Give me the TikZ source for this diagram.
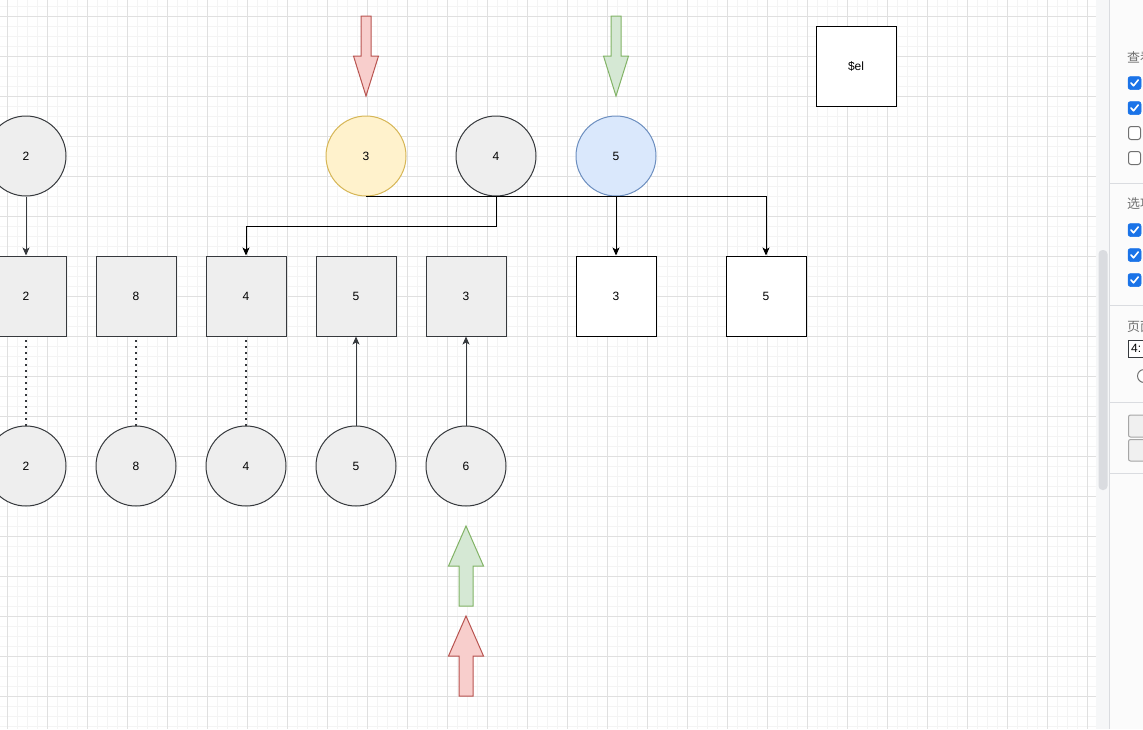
\documentclass[tikz,border=0pt]{standalone}
\usepackage{fontspec}
\setmainfont{Liberation Sans}
\newfontfamily\cjk{Noto Sans CJK SC}
\usetikzlibrary{arrows.meta}
\definecolor{gfill}{HTML}{EEEEEE}
\definecolor{gline}{HTML}{36393D}
\definecolor{yfill}{HTML}{FFF2CC}
\definecolor{yline}{HTML}{D6B656}
\definecolor{bfill}{HTML}{DAE8FC}
\definecolor{bline}{HTML}{6C8EBF}
\definecolor{rfill}{HTML}{F8CECC}
\definecolor{rline}{HTML}{B85450}
\definecolor{grfill}{HTML}{D5E8D4}
\definecolor{grline}{HTML}{82B366}
\definecolor{minorg}{HTML}{F4F4F4}
\definecolor{majorg}{HTML}{E0E0E0}
\definecolor{panelbg}{HTML}{FBFBFB}
\definecolor{paneline}{HTML}{DADCE0}
\definecolor{thumb}{HTML}{DADCE0}
\definecolor{track}{HTML}{F6F7F8}
\definecolor{cbblue}{HTML}{1A73E8}
\definecolor{ptext}{HTML}{707070}
\tikzset{
  lbl/.style={font=\fontsize{12}{14}\selectfont, text=black, inner sep=0pt},
  gcirc/.style={circle, minimum size=80pt, draw=gline, fill=gfill, line width=1pt, lbl},
  ycirc/.style={circle, minimum size=80pt, draw=yline, fill=yfill, line width=1pt, lbl},
  bcirc/.style={circle, minimum size=80pt, draw=bline, fill=bfill, line width=1pt, lbl},
  gbox/.style={rectangle, minimum size=80pt, draw=gline, fill=gfill, line width=1pt, lbl},
  wbox/.style={rectangle, minimum size=80pt, draw=black, fill=white, line width=1pt, lbl},
  conn/.style={draw=black, line width=1pt, -{Stealth[length=8pt,width=7pt,inset=2pt]}},
  gconn/.style={draw=gline, line width=1pt, -{Stealth[length=8pt,width=7pt,inset=2pt]}},
  dotline/.style={draw=gline, line width=2pt, dash pattern=on 2pt off 4pt},
  redarrow/.style={draw=rline, fill=rfill, line width=1pt, line join=miter},
  greenarrow/.style={draw=grline, fill=grfill, line width=1pt, line join=miter},
  minorgrid/.style={draw=minorg, line width=1pt},
  majorgrid/.style={draw=majorg, line width=1pt},
  cbon/.style={draw=cbblue, fill=cbblue, rounded corners=2.5pt, line width=0.5pt},
  cboff/.style={draw=ptext, fill=white, rounded corners=2.5pt, line width=1pt},
  ptxt/.style={font=\cjk\fontsize{13}{15}\selectfont, text=ptext, inner sep=0pt, anchor=west},
}
\begin{document}
\begin{tikzpicture}[x=1pt,y=-1pt]
\useasboundingbox (0,0) rectangle (1143,729);
\fill[white] (0,0) rectangle (1143,729);
% grid
\begin{scope}
\clip (0,0) rectangle (1096,729);
\foreach \x in {-3,7,...,1097} \draw[minorgrid] (\x,0) -- (\x,729);
\foreach \y in {6,16,...,726} \draw[minorgrid] (0,\y) -- (1096,\y);
\foreach \x in {7,47,...,1087} \draw[majorgrid] (\x,0) -- (\x,729);
\foreach \y in {16,56,...,696} \draw[majorgrid] (0,\y) -- (1096,\y);
\end{scope}

% top row circles
\node[gcirc] (c2) at (26,156) {2};
\node[ycirc] (c3) at (366,156) {3};
\node[gcirc] (c4) at (496,156) {4};
\node[bcirc] (c5) at (616,156) {5};

% boxes
\node[gbox] (b2) at (26,296) {2};
\node[gbox] (b8) at (136,296) {8};
\node[gbox] (b4) at (246,296) {4};
\node[gbox] (b5) at (356,296) {5};
\node[gbox] (b3) at (466,296) {3};
\node[wbox] (w3) at (616,296) {3};
\node[wbox] (w5) at (766,296) {5};
\node[wbox] (el) at (856,66) {\$el};

% bottom circles
\node[gcirc] (d2) at (26,466) {2};
\node[gcirc] (d8) at (136,466) {8};
\node[gcirc] (d4) at (246,466) {4};
\node[gcirc] (d5) at (356,466) {5};
\node[gcirc] (d6) at (466,466) {6};

% connectors
\draw[gconn] (c2.south) -- (b2.north);
\draw[conn] (c3.south) -| (w3.north);
\draw[conn] (c5.south) -| (w5.north);
\draw[conn] (c4.south) -- ++(0,30) -| (b4.north);
\draw[dotline] (d2.north) -- (b2.south);
\draw[dotline] (d8.north) -- (b8.south);
\draw[dotline] (d4.north) -- (b4.south);
\draw[gconn] (d5.north) -- (b5.south);
\draw[gconn] (d6.north) -- (b3.south);

% block arrows
\draw[redarrow] (361,16) -- (371,16) -- (371,56) -- (378.5,56) -- (366,96) -- (353.5,56) -- (361,56) -- cycle;
\draw[greenarrow] (611,16) -- (621,16) -- (621,56) -- (628.5,56) -- (616,96) -- (603.5,56) -- (611,56) -- cycle;
\draw[greenarrow] (459,606) -- (473,606) -- (473,566) -- (483.5,566) -- (466,526) -- (448.5,566) -- (459,566) -- cycle;
\draw[redarrow] (459,696) -- (473,696) -- (473,656) -- (483.5,656) -- (466,616) -- (448.5,656) -- (459,656) -- cycle;

% right panel
\fill[track] (1096,0) rectangle (1109,729);
\fill[thumb, rounded corners=4pt] (1098.5,250) rectangle (1107.5,490);
\fill[panelbg] (1109,0) rectangle (1143,729);
\draw[paneline, line width=1pt] (1109.5,0) -- (1109.5,729);
\begin{scope}
\clip (1110,0) rectangle (1143,729);
\foreach \y in {183,305,402,473} \draw[paneline, line width=1pt] (1110,\y) -- (1143,\y);
\node[ptxt] (t1) at (1127,58) {查看};
\node[ptxt] (t2) at (1127,204) {选项};
\node[ptxt] (t3) at (1127,327) {页面};
\foreach \y in {83,108,230,255,280} {
  \draw[cbon] (1128,\y-6.5) rectangle (1141,\y+6.5);
  \draw[white, line width=1.6pt, line cap=round, line join=round] (1131,\y) -- (1133.5,\y+2.8) -- (1138.2,\y-3);
}
\foreach \y in {133,158} \draw[cboff] (1128.5,\y-6.5) rectangle (1140.5,\y+6.5);
\draw[draw=gline, fill=white, line width=1pt] (1128.5,340) rectangle (1150,357);
\node[font=\fontsize{12}{14}\selectfont, inner sep=0pt, anchor=west] (t4) at (1131,348.5) {4:};
\draw[draw=ptext, fill=white, line width=1pt] (1144,376) circle (6.5);
\draw[draw=gray!70, fill=gray!12, rounded corners=2pt, line width=1pt] (1128.5,415) rectangle (1160,437);
\draw[draw=gray!70, fill=gray!12, rounded corners=2pt, line width=1pt] (1128.5,439.5) rectangle (1160,461);
\end{scope}
\end{tikzpicture}
\end{document}
